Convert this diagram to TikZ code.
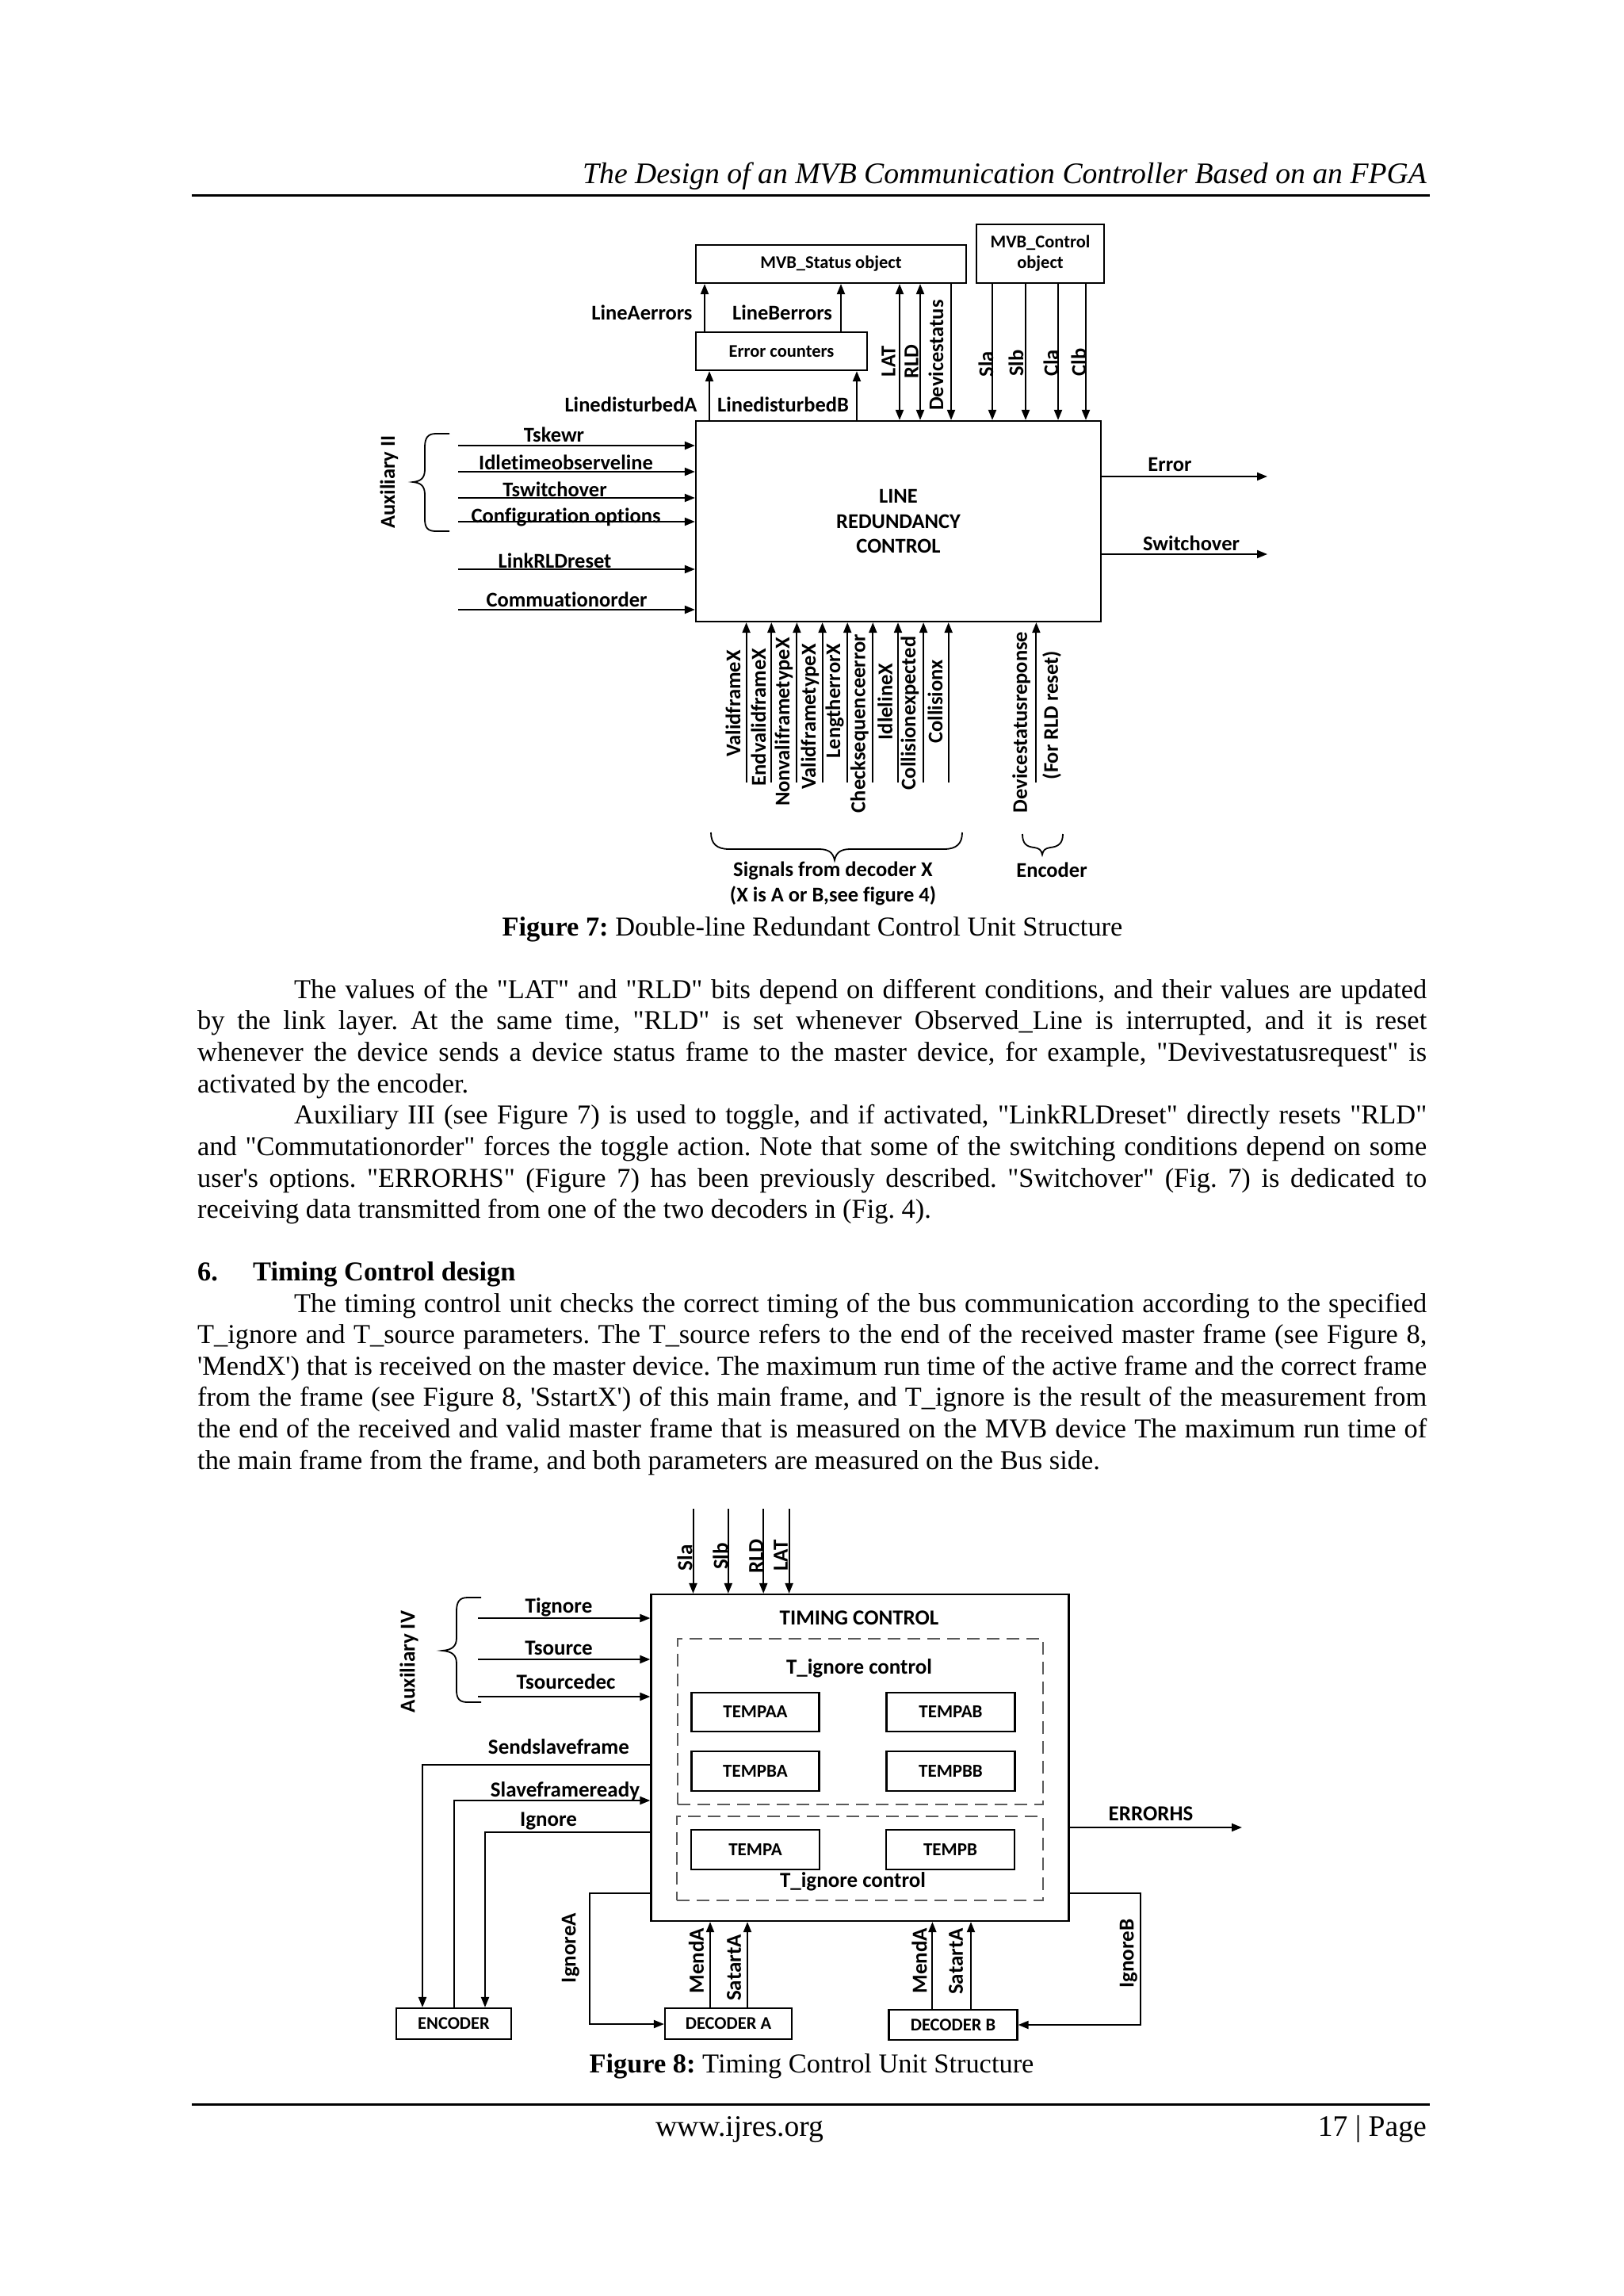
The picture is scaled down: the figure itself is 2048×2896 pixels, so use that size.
\documentclass[tikz,border=0pt]{standalone}
\usepackage{fontspec}
\setmainfont{Liberation Serif}[Ligatures=TeXOff]
\newfontfamily\carl{Carlito}[Ligatures=NoCommon]
\usetikzlibrary{arrows.meta}
\frenchspacing
\tikzset{
 lab/.style={font=\carl\bfseries\fontsize{26.5}{31}\selectfont, inner sep=0pt, align=center},
 labb/.style={font=\carl\bfseries\fontsize{27}{31}\selectfont, inner sep=0pt, align=center},
 rlab/.style={lab, rotate=90},
 rlabb/.style={labb, rotate=90},
 blk/.style={draw, line width=2.2pt, inner sep=0pt, font=\carl\bfseries\fontsize{22.5}{26}\selectfont, align=center},
 arr/.style={line width=2pt, -{Triangle[length=13pt,width=10pt]}},
 darr/.style={line width=2pt, {Triangle[length=13pt,width=10pt]}-{Triangle[length=13pt,width=10pt]}},
 dbox/.style={draw=black!65, line width=2.2pt, dash pattern=on 16pt off 9pt, inner sep=0pt},
 body/.style={font=\fontsize{34.4}{39.7}\selectfont, inner sep=0pt, anchor=base west},
 bodyc/.style={font=\fontsize{34.4}{39.7}\selectfont, inner sep=0pt, anchor=base},
 foot/.style={font=\fontsize{37.6}{42}\selectfont, inner sep=0pt},
}
\newcommand\jl[1]{\makebox[1551pt][s]{\frenchspacing #1}}
\newcommand\jli[1]{\makebox[1429pt][s]{\frenchspacing #1}}
\begin{document}
\begin{tikzpicture}[x=1pt,y=-1pt]
\useasboundingbox (0,0) rectangle (2048,2896);
\fill[white] (0,0) rectangle (2048,2896);

% ---------- header ----------
\node[foot, anchor=base east, font=\itshape\fontsize{37.7}{42}\selectfont] (hdr) at (1800,231) {The Design of an MVB Communication Controller Based on an FPGA};
\coordinate (hl) at (242,246); \coordinate (hr) at (1804,246);
\draw[line width=3pt] (hl) -- (hr);

% ---------- Figure 7 ----------
\node[blk, minimum width=341pt, minimum height=48pt] (status) at (1048.5,333) {MVB\_Status object};
\node[blk, minimum width=161pt, minimum height=74pt] (control) at (1312.5,320) {MVB\_Control\\object};
\node[blk, minimum width=216pt, minimum height=48pt] (errc) at (986,443) {Error counters};
\node[blk, minimum width=511pt, minimum height=253pt, font=\carl\bfseries\fontsize{26.5}{31.5}\selectfont] (lrc) at (1133.5,657.5) {LINE\\REDUNDANCY\\CONTROL};

\draw[arr] (889,0 |- errc.north) -- (889,0 |- status.south);
\draw[arr] (1061,0 |- errc.north) -- (1061,0 |- status.south);
\draw[arr] (895,0 |- lrc.north) -- (895,0 |- errc.south);
\draw[arr] (1081,0 |- lrc.north) -- (1081,0 |- errc.south);
\draw[darr] (1135,0 |- status.south) -- (1135,0 |- lrc.north);
\draw[darr] (1161,0 |- status.south) -- (1161,0 |- lrc.north);
\draw[arr] (1200,0 |- status.south) -- (1200,0 |- lrc.north);
\foreach \x in {1252,1294,1335,1370} \draw[arr] (\x,0 |- control.south) -- (\x,0 |- lrc.north);

\node[lab] (tLAe) at (810,394) {LineAerrors};
\node[lab] (tLBe) at (987,394) {LineBerrors};
\node[lab] (tLdA) at (796,510) {LinedisturbedA};
\node[lab] (tLdB) at (988,510) {LinedisturbedB};
\node[rlab] (tLAT) at (1121,456) {LAT};
\node[rlab] (tRLD) at (1150,456) {RLD};
\node[rlab] (tDev) at (1181,448) {Devicestatus};
\node[rlab] (tSla) at (1244,459) {Sla};
\node[rlab] (tSlb) at (1282,458) {Slb};
\node[rlab] (tCla) at (1326,458) {Cla};
\node[rlab] (tClb) at (1361,457) {Clb};

% left inputs
\foreach \y/\n in {562/a,595/b,628/c,658/d,718/e,769/f} {
  \coordinate (sevin\n) at (578,\y);
  \draw[arr] (sevin\n) -- (lrc.west |- sevin\n);
}
\node[lab] (tTsk) at (699,548) {Tskewr};
\node[lab] (tIdl) at (714,583) {Idletimeobserveline};
\node[lab] (tTsw) at (700,617) {Tswitchover};
\node[lab] (tCfg) at (714,652) {Configuration options};
\node[lab] (tLnk) at (700,707) {LinkRLDreset};
\node[lab] (tCom) at (715,756) {Commuationorder};
\draw[line width=1.8pt] (567,547) -- (550,547) .. controls (540,547) and (536,552) .. (536,564) -- (536,592) .. controls (536,603) and (531,607) .. (521,608) .. controls (531,609) and (536,613) .. (536,624) -- (536,655) .. controls (536,666) and (540,670) .. (550,670) -- (567,670);
\node[rlab] (tAux2) at (491,608) {Auxiliary II};

% right outputs
\coordinate (oErr) at (1599,601);
\coordinate (oSw) at (1599,699);
\draw[arr] (lrc.east |- oErr) -- (oErr);
\draw[arr] (lrc.east |- oSw) -- (oSw);
\node[lab] (tErr) at (1476,586) {Error};
\node[lab] (tSw) at (1503,685) {Switchover};

% bottom inputs
\foreach \x/\n in {941.6/a,973.3/b,1005.4/c,1037.6/d,1069.2/e,1101.3/f,1133/g,1165.1/h,1196.7/i,1307.4/j} {
  \coordinate (sevbot\n) at (\x,987);
  \draw[arr] (sevbot\n) -- (sevbot\n |- lrc.south);
}
\node[rlab] (tVf) at (925,887.5) {ValidframeX};
\node[rlab] (tEvf) at (957,904.5) {EndvalidframeX};
\node[rlab] (tNvf) at (989,910.5) {NonvaliframetypeX};
\node[rlab] (tVft) at (1022,904) {ValidframetypeX};
\node[rlab] (tLe) at (1053,884) {LengtherrorX};
\node[rlab] (tCse) at (1084.5,912.5) {Checksequenceerror};
\node[rlab] (tIl) at (1116.6,885) {IdlelineX};
\node[rlab] (tCe) at (1148,899.5) {Collisionexpected};
\node[rlab] (tCx) at (1180,885) {Collisionx};
\node[rlab] (tDsr) at (1288.6,911) {Devicestatusreponse};
\node[rlab] (tFor) at (1327,902) {(For RLD reset)};

\draw[line width=1.8pt] (897,1050) .. controls (897,1064) and (904,1071) .. (920,1071) -- (1033,1071) .. controls (1045,1071) and (1051,1075) .. (1053,1085) .. controls (1055,1075) and (1061,1071) .. (1073,1071) -- (1191,1071) .. controls (1207,1071) and (1214,1064) .. (1214,1050);
\draw[line width=1.8pt] (1290,1052) .. controls (1290,1064) and (1295,1068) .. (1305,1069) .. controls (1311,1070) and (1314,1072) .. (1315,1078) .. controls (1316,1072) and (1319,1070) .. (1325,1069) .. controls (1335,1068) and (1341,1064) .. (1341,1052);
\node[lab] (tSig) at (1051,1098) {Signals from decoder X};
\node[lab] (tSig2) at (1051,1130) {(X is A or B,see figure 4)};
\node[lab] (tEnc) at (1327,1097) {Encoder};

\node[bodyc] (cap7) at (1025,1180) {\textbf{Figure 7:} Double-line Redundant Control Unit Structure};

% ---------- body text ----------
\node[body] (p1a) at (371,1259) {\jli{The values of the "LAT" and "RLD" bits depend on different conditions, and their values are updated}};
\node[body] (p1b) at (249,1298.7) {\jl{by the link layer. At the same time, "RLD" is set whenever Observed\_Line is interrupted, and it is reset}};
\node[body] (p1c) at (249,1338.4) {\jl{whenever the device sends a device status frame to the master device, for example, "Devivestatusrequest" is}};
\node[body] (p1d) at (249,1378.1) {activated by the encoder.};
\node[body] (p2a) at (371,1417.8) {\jli{Auxiliary III (see Figure 7) is used to toggle, and if activated, "LinkRLDreset" directly resets "RLD"}};
\node[body] (p2b) at (249,1457.5) {\jl{and "Commutationorder" forces the toggle action. Note that some of the switching conditions depend on some}};
\node[body] (p2c) at (249,1497.2) {\jl{user's options. "ERRORHS" (Figure 7) has been previously described. "Switchover" (Fig. 7) is dedicated to}};
\node[body] (p2d) at (249,1536.9) {receiving data transmitted from one of the two decoders in (Fig. 4).};
\node[body] (h6n) at (249,1615.6) {\textbf{6.}};
\node[body] (h6t) at (319,1615.6) {\textbf{Timing Control design}};
\node[body] (p3a) at (371,1655) {\jli{The timing control unit checks the correct timing of the bus communication according to the specified}};
\node[body] (p3b) at (249,1694.6) {\jl{T\_ignore and T\_source parameters. The T\_source refers to the end of the received master frame (see Figure 8,}};
\node[body] (p3c) at (249,1734.2) {\jl{'MendX') that is received on the master device. The maximum run time of the active frame and the correct frame}};
\node[body] (p3d) at (249,1773.8) {\jl{from the frame (see Figure 8, 'SstartX') of this main frame, and T\_ignore is the result of the measurement from}};
\node[body] (p3e) at (249,1813.4) {\jl{the end of the received and valid master frame that is measured on the MVB device The maximum run time of}};
\node[body] (p3f) at (249,1853) {the main frame from the frame, and both parameters are measured on the Bus side.};

% ---------- Figure 8 ----------
\node[blk, minimum width=527pt, minimum height=412pt] (tctl) at (1085,2217) {};
\node[labb] (tcT) at (1084,2041) {TIMING CONTROL};
\node[dbox, minimum width=461pt, minimum height=209pt] (d1) at (1085.5,2171.5) {};
\node[labb] (d1T) at (1084,2104) {T\_ignore control};
\node[blk, font=\carl\bfseries\fontsize{23}{26}\selectfont, minimum width=161pt, minimum height=49pt] (taa) at (953,2159.5) {TEMPAA};
\node[blk, font=\carl\bfseries\fontsize{23}{26}\selectfont, minimum width=162pt, minimum height=49pt] (tab) at (1199.5,2159.5) {TEMPAB};
\node[blk, font=\carl\bfseries\fontsize{23}{26}\selectfont, minimum width=161pt, minimum height=50pt] (tba) at (953,2234) {TEMPBA};
\node[blk, font=\carl\bfseries\fontsize{23}{26}\selectfont, minimum width=162pt, minimum height=50pt] (tbb) at (1199.5,2234) {TEMPBB};
\node[dbox, minimum width=462pt, minimum height=106pt] (d2) at (1085,2344) {};
\node[blk, font=\carl\bfseries\fontsize{23}{26}\selectfont, minimum width=162pt, minimum height=50pt] (tempa) at (953,2333) {TEMPA};
\node[blk, font=\carl\bfseries\fontsize{23}{26}\selectfont, minimum width=162pt, minimum height=50pt] (tempb) at (1199,2333) {TEMPB};
\node[labb] (d2T) at (1076,2373) {T\_ignore control};

\node[blk, minimum width=145pt, minimum height=39pt] (enc) at (572.5,2552.5) {ENCODER};
\node[blk, minimum width=160pt, minimum height=39pt] (deca) at (919,2552.5) {DECODER A};
\node[blk, minimum width=162pt, minimum height=38pt] (decb) at (1202.5,2554) {DECODER B};

% top inputs
\foreach \x/\n in {874.5/a,918.8/b,963.2/c,995.6/d} {
  \coordinate (eighttop\n) at (\x,1903);
  \draw[arr] (eighttop\n) -- (eighttop\n |- tctl.north);
}
\node[rlabb] (uSla) at (864,1965) {Sla};
\node[rlabb] (uSlb) at (909,1963) {Slb};
\node[rlabb] (uRLD) at (954,1963) {RLD};
\node[rlabb] (uLAT) at (985,1962) {LAT};

% left inputs
\foreach \y/\n in {2041/a,2093/b,2140/c} {
  \coordinate (eightin\n) at (603,\y);
  \draw[arr] (eightin\n) -- (tctl.west |- eightin\n);
}
\node[labb] (uTig) at (705,2027) {Tignore};
\node[labb] (uTso) at (705,2079) {Tsource};
\node[labb] (uTsd) at (714,2121) {Tsourcedec};
\draw[line width=1.8pt] (607,2015) -- (590,2015) .. controls (580,2015) and (576,2020) .. (576,2032) -- (576,2066) .. controls (576,2077) and (570,2081) .. (558,2082) .. controls (570,2083) and (576,2087) .. (576,2098) -- (576,2132) .. controls (576,2143) and (580,2147) .. (590,2147) -- (607,2147);
\node[rlabb] (uAux4) at (516,2096) {Auxiliary IV};

% encoder links
\coordinate (sA) at (533,2226);
\coordinate (sB) at (573,2271);
\coordinate (sC) at (612,2311);
\draw[arr] (tctl.west |- sA) -- (sA) -- (sA |- enc.north);
\draw[arr] (sB |- enc.north) -- (sB) -- (tctl.west |- sB);
\draw[arr] (tctl.west |- sC) -- (sC) -- (sC |- enc.north);
\node[labb] (uSsf) at (705,2203) {Sendslaveframe};
\node[labb] (uSfr) at (713,2259) {Slaveframeready};
\node[labb] (uIgn) at (692,2297) {Ignore};

% decoder links
\coordinate (iA1) at (744,2388);
\coordinate (iA2) at (744,2553);
\draw[arr] (tctl.west |- iA1) -- (iA1) -- (iA2) -- (deca.west |- iA2);
\node[rlabb] (uIgA) at (720,2457) {IgnoreA};
\coordinate (iB1) at (1439,2388);
\coordinate (iB2) at (1439,2554);
\draw[arr] (tctl.east |- iB1) -- (iB1) -- (iB2) -- (decb.east |- iB2);
\node[rlabb] (uIgB) at (1424,2464) {IgnoreB};

\draw[arr] (896,0 |- deca.north) -- (896,0 |- tctl.south);
\draw[arr] (943,0 |- deca.north) -- (943,0 |- tctl.south);
\draw[arr] (1176.4,0 |- decb.north) -- (1176.4,0 |- tctl.south);
\draw[arr] (1225,0 |- decb.north) -- (1225,0 |- tctl.south);
\node[rlabb] (uMA) at (878.6,2473) {MendA};
\node[rlabb] (uSA) at (926,2482) {SatartA};
\node[rlabb] (uMB) at (1160,2473) {MendA};
\node[rlabb] (uSB) at (1206,2474) {SatartA};

\coordinate (oEH) at (1567,2305);
\draw[arr] (tctl.east |- oEH) -- (oEH);
\node[labb] (uEH) at (1452,2288) {ERRORHS};

\node[bodyc] (cap8) at (1024,2614) {\textbf{Figure 8:} Timing Control Unit Structure};

% ---------- footer ----------
\coordinate (fl) at (242,2654); \coordinate (fr) at (1804,2654);
\draw[line width=3pt] (fl) -- (fr);
\node[foot, anchor=base] (furl) at (933,2694) {www.ijres.org};
\node[foot, anchor=base east] (fpg) at (1800,2694) {17 | Page};
\end{tikzpicture}
\end{document}
